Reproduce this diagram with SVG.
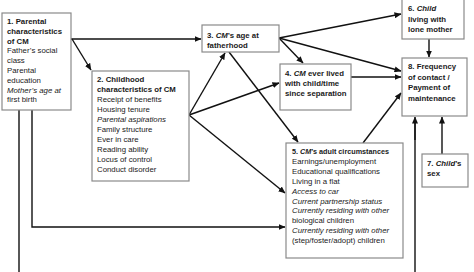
<svg xmlns="http://www.w3.org/2000/svg" width="474" height="272" viewBox="0 0 474 272">
<defs>
<marker id="ah" markerWidth="7" markerHeight="6" refX="6.5" refY="3" orient="auto" markerUnits="userSpaceOnUse">
<path d="M0,0 L7,3 L0,6 Z" fill="#111"/>
</marker>
<style>
.box{fill:#fff;stroke:#8a8a8a;stroke-width:1.2}
.t{font-family:"Liberation Sans",Arial,sans-serif;font-size:7.8px;fill:#1a1a1a}
.b{font-weight:bold}
.i{font-style:italic}
.c{fill:none;stroke:#111;stroke-width:1.4}
.ca{fill:none;stroke:#111;stroke-width:1.4;marker-end:url(#ah)}
</style>
</defs>
<rect width="474" height="272" fill="#fff"/>
<g id="connectors">
<polyline class="c" points="19,110 19,276 415,276 415,120"/>
<path class="ca" d="M415,140 L415,117"/>
<polyline class="ca" points="32,110 32,227 285,227"/>
<path class="ca" d="M71,39 L201,39"/>
<path class="ca" d="M72,39 L91,70"/>
<path class="ca" d="M279,38 L401,14"/>
<path class="ca" d="M279,38 L303,63"/>
<path class="ca" d="M279,38 L401,71"/>
<path class="ca" d="M351,77 L401,77"/>
<path class="ca" d="M189,115 L225,53"/>
<path class="ca" d="M189,115 L279,83"/>
<path class="ca" d="M189,115 L285,193"/>
<path class="ca" d="M229,52 L298,142"/>
<path class="ca" d="M363,143 L401,93"/>
<path class="ca" d="M429,39 L429,57"/>
<path class="ca" d="M442,154 L442,117"/>
</g>
<g id="node1">
<rect class="box" x="2" y="13" width="69" height="97"/>
<text class="t b" x="7" y="24">1. Parental</text>
<text class="t b" x="7" y="33.8">characteristics</text>
<text class="t b" x="7" y="43.6">of CM</text>
<text class="t" x="7" y="53.4">Father’s social</text>
<text class="t" x="7" y="63.2">class</text>
<text class="t" x="7" y="73">Parental</text>
<text class="t" x="7" y="82.8">education</text>
<text class="t i" x="7" y="92.6">Mother’s age at</text>
<text class="t" x="7" y="102.4">first birth</text>
</g>
<g id="node2">
<rect class="box" x="92" y="71" width="97" height="110"/>
<text class="t b" x="97" y="81.5">2. Childhood</text>
<text class="t b" x="97" y="91.6">characteristics of CM</text>
<text class="t" x="97" y="101.7">Receipt of benefits</text>
<text class="t" x="97" y="111.8">Housing tenure</text>
<text class="t i" x="97" y="121.9">Parental aspirations</text>
<text class="t" x="97" y="132">Family structure</text>
<text class="t" x="97" y="142.1">Ever in care</text>
<text class="t" x="97" y="152.2">Reading ability</text>
<text class="t" x="97" y="162.3">Locus of control</text>
<text class="t" x="97" y="172.4">Conduct disorder</text>
</g>
<g id="node3">
<rect class="box" x="202" y="25" width="77" height="27"/>
<text class="t b" x="207" y="38">3. <tspan class="i">CM</tspan>’s age at</text>
<text class="t b" x="207" y="48">fatherhood</text>
</g>
<g id="node4">
<rect class="box" x="280" y="64" width="71" height="46"/>
<text class="t b" x="285" y="76">4. <tspan class="i">CM</tspan> ever lived</text>
<text class="t b" x="285" y="86">with child/time</text>
<text class="t b" x="285" y="96">since separation</text>
</g>
<g id="node5">
<rect class="box" x="286" y="143" width="117" height="115"/>
<text class="t b" x="292" y="154" textLength="97" lengthAdjust="spacingAndGlyphs">5. <tspan class="i">CM</tspan>’s adult circumstances</text>
<text class="t" x="292" y="163.9">Earnings/unemployment</text>
<text class="t" x="292" y="173.8">Educational qualifications</text>
<text class="t" x="292" y="183.7">Living in a flat</text>
<text class="t i" x="292" y="193.6">Access to car</text>
<text class="t i" x="292" y="203.5">Current partnership status</text>
<text class="t i" x="292" y="213.4">Currently residing with other</text>
<text class="t" x="292" y="223.3">biological children</text>
<text class="t i" x="292" y="233.2">Currently residing with other</text>
<text class="t" x="292" y="243.1">(step/foster/adopt) children</text>
</g>
<g id="node6">
<rect class="box" x="402" y="-1" width="62" height="40"/>
<text class="t b" x="408" y="11">6. <tspan class="i">Child</tspan></text>
<text class="t b" x="408" y="21.5">living with</text>
<text class="t b" x="408" y="32">lone mother</text>
</g>
<g id="node8">
<rect class="box" x="402" y="58" width="65" height="58"/>
<text class="t b" x="408" y="69">8. Frequency</text>
<text class="t b" x="408" y="79.5">of contact /</text>
<text class="t b" x="408" y="90">Payment of</text>
<text class="t b" x="408" y="100.5">maintenance</text>
</g>
<g id="node7">
<rect class="box" x="422" y="154" width="46" height="33"/>
<text class="t b" x="427" y="166">7. <tspan class="i">Child</tspan>’s</text>
<text class="t b" x="427" y="176">sex</text>
</g>
</svg>
